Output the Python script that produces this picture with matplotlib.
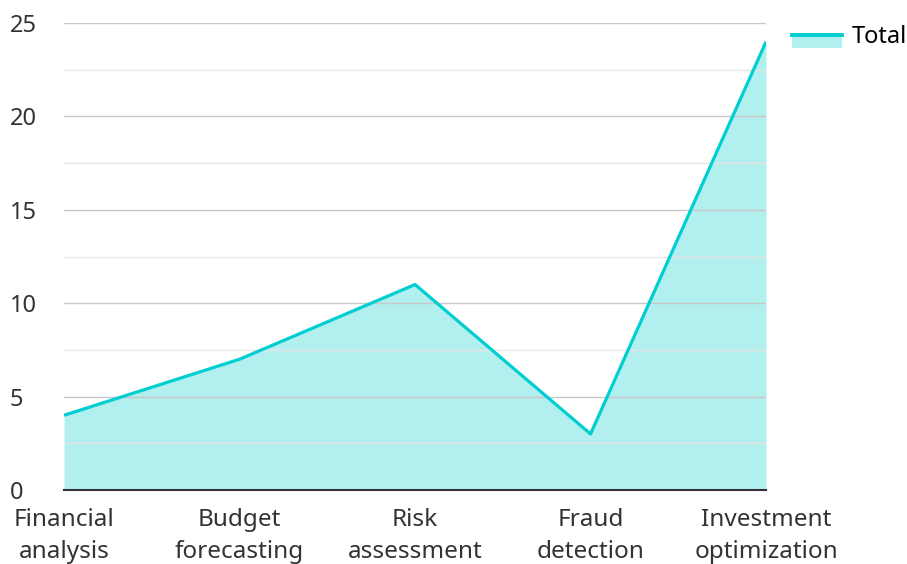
import numpy as np
import matplotlib
matplotlib.use("Agg")
import matplotlib.pyplot as plt
from matplotlib.legend_handler import HandlerBase
from matplotlib.patches import Rectangle
from matplotlib.lines import Line2D

categories = ["Financial\nanalysis", "Budget\nforecasting", "Risk\nassessment",
              "Fraud\ndetection", "Investment\noptimization"]
totals = [4, 7, 11, 3, 24]
series_name = "Total"

LINE = "#00CED1"
FILL = "#B2EFEF"

plt.rcParams["font.family"] = ["Noto Sans", "DejaVu Sans"]

class AreaHandler(HandlerBase):
    def create_artists(self, legend, orig, xd, yd, w, h, fs, trans):
        yc = -yd + h * 0.5
        r = Rectangle((-xd, yc - 9.4), w, 9.4, facecolor=FILL, edgecolor="none", transform=trans)
        l = Line2D([-xd, -xd + w], [yc, yc], color=LINE, lw=2.8, transform=trans)
        return [r, l]

fig = plt.figure(figsize=(9.07, 5.64), dpi=100)
ax = fig.add_axes([0.0706, 0.1312, 0.774, 0.828])
x = np.arange(len(categories))
ax.fill_between(x, totals, 0, color=FILL, lw=0, zorder=1)
ax.plot(x, totals, color=LINE, lw=2.3, zorder=3, solid_capstyle="butt")

ax.set_xlim(0, len(categories) - 1)
ax.set_ylim(0, 25)
ax.set_yticks(np.arange(0, 26, 5))
ax.set_yticks(np.arange(2.5, 25, 5), minor=True)
ax.grid(axis="y", which="major", color="#c8c8c8", lw=1, zorder=2)
ax.grid(axis="y", which="minor", color="#e6e6e6", lw=1, zorder=2)
ax.set_xticks(x)
ax.set_xticklabels(categories, linespacing=1.45, fontsize=17.5)
ax.tick_params(axis="both", which="both", length=0, labelsize=17, colors="#333333")
ax.tick_params(axis="x", pad=13, labelsize=17.5)
ax.tick_params(axis="y", pad=39)
for yl in ax.get_yticklabels():
    yl.set_horizontalalignment("left")
for s in ("top", "right", "left"):
    ax.spines[s].set_visible(False)
ax.spines["bottom"].set_color("#333333")
ax.spines["bottom"].set_linewidth(1.5)
ax.spines["bottom"].set_zorder(4)

ax.legend([object()], [series_name], handler_map={object: AreaHandler()},
          loc="upper left", bbox_to_anchor=(1.037, 0.995), frameon=False,
          borderaxespad=0, borderpad=0,
          fontsize=17, handlelength=2.12, handletextpad=0.4)

fig.savefig("out.png", dpi=100)
